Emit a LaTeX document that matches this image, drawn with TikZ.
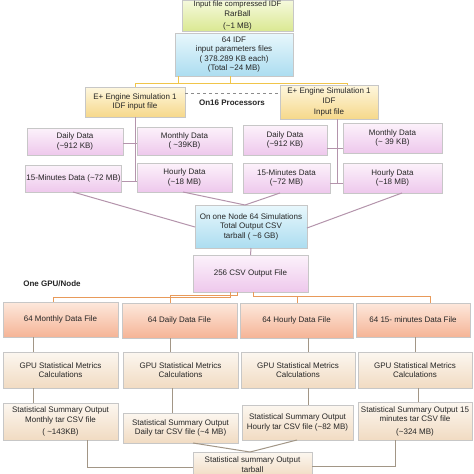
\documentclass[tikz,border=0pt]{standalone}
\usepackage{fontspec}
\setmainfont{Liberation Sans}
\usetikzlibrary{shadows}
\definecolor{grnT}{HTML}{F5F9DC}
\definecolor{grnB}{HTML}{DAE891}
\definecolor{bluT}{HTML}{E8F7FC}
\definecolor{bluB}{HTML}{ACDDF0}
\definecolor{yelT}{HTML}{FEF7DF}
\definecolor{yelB}{HTML}{F6D88A}
\definecolor{pnkT}{HTML}{FCF2FB}
\definecolor{pnkB}{HTML}{EEC8EC}
\definecolor{orgT}{HTML}{FDE8DC}
\definecolor{orgB}{HTML}{F5B496}
\definecolor{begT}{HTML}{FCF7F0}
\definecolor{begB}{HTML}{F1DBC2}
\definecolor{lnYel}{HTML}{F0C54A}
\definecolor{lnOrg}{HTML}{E89A5A}
\definecolor{lnMv}{HTML}{B494AC}
\definecolor{lnGry}{HTML}{A29686}
\newcommand\apx{\textasciitilde}
\newcommand\fs{\fontsize{8}{9.5}\selectfont}
\newcommand\fst{\fontsize{8}{8}\selectfont}
\newcommand\fsu{\fontsize{7.7}{7.5}\selectfont}
\newcommand\bx[7]{\node[#2, minimum width={(#5)-(#3)}, minimum height={(#6)-(#4)}] (#1) at ({((#3)+(#5))/2},{((#4)+(#6))/2}) {#7};}
\begin{document}
\begin{tikzpicture}[x=1pt,y=-1pt,
  box/.style={draw=black!22, line width=0.4pt, inner xsep=1pt, inner ysep=1pt, outer sep=0pt, align=center, font=\fs, text=black!85, drop shadow={opacity=0.18, shadow xshift=0.8pt, shadow yshift=-0.8pt}},
  grn/.style={box, top color=grnT, bottom color=grnB},
  blu/.style={box, top color=bluT, bottom color=bluB},
  yel/.style={box, top color=yelT, bottom color=yelB},
  pnk/.style={box, top color=pnkT, bottom color=pnkB},
  org/.style={box, top color=orgT, bottom color=orgB},
  beg/.style={box, top color=begT, bottom color=begB},
  lab/.style={font=\fs\bfseries, text=black!85, inner sep=0pt},
  ly/.style={draw=lnYel, line width=1pt},
  lo/.style={draw=lnOrg, line width=1pt},
  lm/.style={draw=lnMv, line width=1pt},
  lg/.style={draw=lnGry, line width=1pt},
]
\useasboundingbox (0,0) rectangle (474,474);
\fill[white] (0,0) rectangle (474,474);
\clip (0,0) rectangle (474,474);

% coordinates for connector routing
\coordinate (ya) at (178,83);
\coordinate (yb) at (230,83);
\coordinate (x347) at (347,0);
\coordinate (dy) at (0,93);
\coordinate (t1) at (0,181);
\coordinate (t2) at (337,0);
\coordinate (r1) at (0,143);
\coordinate (r2) at (0,181);
\coordinate (r3) at (0,148);
\coordinate (r4) at (0,183);
\coordinate (c73) at (73,0);
\coordinate (c183) at (183,0);
\coordinate (c280) at (280,0);
\coordinate (c402) at (402,0);
\coordinate (c245) at (245,0);
\coordinate (y227) at (0,227);
\coordinate (y228) at (0,228);
\coordinate (o1) at (230,297);
\coordinate (o2) at (237,295);
\coordinate (o3) at (253,296);
\coordinate (x53) at (53,0);
\coordinate (x170) at (170,0);
\coordinate (x297) at (297,0);
\coordinate (x430) at (430,0);
\coordinate (g33) at (33,0);
\coordinate (g170) at (170,0);
\coordinate (g172) at (172,0);
\coordinate (g308) at (308,0);
\coordinate (g415) at (415,0);
\coordinate (g418) at (418,0);
\coordinate (f87) at (87,0);
\coordinate (f193) at (193,0);
\coordinate (f250) at (250,0);
\coordinate (f297) at (297,0);
\coordinate (f395) at (395,0);
\coordinate (y470) at (0,467);
\coordinate (y468) at (0,466);

% top
\bx{top}{grn}{182}{1}{293}{31}{\fsu Input file compressed IDF\\ RarBall\\[3pt] (\apx1 MB)}
\bx{idf}{blu}{175}{33}{293}{76}{64 IDF\\ input parameters files\\ ( 378.289 KB each)\\ (Total \apx24 MB)}
\bx{E1}{yel}{85}{87}{185}{117}{E+ Engine Simulation 1\\ IDF input file}
\bx{E2}{yel}{280}{85}{378}{119}{E+ Engine Simulation 1\\ IDF\\[2pt] Input file}
\node[lab] (proc) at (232,103) {On16 Processors};

% pink left
\bx{LD}{pnk}{27}{128}{123}{155}{Daily Data\\ (\apx912 KB)}
\bx{LM}{pnk}{137}{127}{232}{155}{Monthly Data\\ ( \apx39KB)}
\bx{LF}{pnk}{27}{165}{120}{192}{15-Minutes Data (\apx72 MB)}
\bx{LH}{pnk}{137}{163}{232}{192}{Hourly Data\\ (\apx18 MB)}
% pink right
\bx{RD}{pnk}{243}{125}{327}{155}{Daily Data\\ (\apx912 KB)}
\bx{RM}{pnk}{343}{123}{442}{153}{Monthly Data\\ (\apx\ 39 KB)}
\bx{RF}{pnk}{243}{163}{330}{193}{15-Minutes Data\\ (\apx72 MB)}
\bx{RH}{pnk}{343}{163}{442}{193}{Hourly Data\\ (\apx18 MB)}

\bx{C}{blu}{195}{205}{307}{248}{On one Node 64 Simulations\\ Total Output CSV\\ tarball ( \apx6 GB)}
\bx{S}{pnk}{193}{255}{308}{292}{256 CSV Output File}
\node[lab] (gpu) at (52,284) {One GPU/Node};

% orange row
\bx{OM}{org}{3}{302}{118}{337}{64 Monthly Data File}
\bx{OD}{org}{122}{303}{237}{338}{64 Daily Data File}
\bx{OH}{org}{240}{303}{353}{338}{64 Hourly Data File}
\bx{O15}{org}{356}{303}{470}{337}{64 15- minutes Data File}

% GPU row
\bx{GM}{beg}{3}{352}{118}{388}{GPU Statistical Metrics\\ Calculations}
\bx{GD}{beg}{123}{352}{238}{388}{GPU Statistical Metrics\\ Calculations}
\bx{GH}{beg}{241}{352}{355}{388}{GPU Statistical Metrics\\ Calculations}
\bx{G15}{beg}{358}{352}{472}{388}{GPU Statistical Metrics\\ Calculations}

% summary row
\bx{SM}{beg}{3}{403}{118}{440}{Statistical Summary Output\\ Monthly tar CSV file\\[3pt] ( \apx143KB)}
\bx{SD}{beg}{123}{413}{238}{443}{Statistical Summary Output\\ Daily tar CSV file (\apx4 MB)}
\bx{SH}{beg}{242}{405}{353}{440}{Statistical Summary Output\\ Hourly tar CSV file (\apx82 MB)}
\bx{S15}{beg}{358}{402}{472}{440}{Statistical Summary Output 15\\ minutes tar CSV file\\[3pt] (\apx324 MB)}
\bx{F}{beg}{193}{452}{312}{477}{\fst Statistical summary Output\\ tarball}

% connectors
\draw[ly] (idf.south -| yb) -- (yb) -| (E1.north);
\draw[ly] (idf.south -| ya) -- (ya) -| (E2.north -| x347);
\draw[black!45, dashed, line width=0.6pt] (E1.east |- dy) -- (E2.west |- dy);

\draw[lm] (E1.south) -- (E1.south |- t1);
\draw[lm] (LD.east |- r1) -- (LM.west |- r1);
\draw[lm] (LF.east |- r2) -- (LH.west |- r2);
\draw[lm] (E2.south -| t2) -- (t2 |- r4);
\draw[lm] (RD.east |- r3) -- (RM.west |- r3);
\draw[lm] (RF.east |- r4) -- (RH.west |- r4);

\draw[lm] (LF.south -| c73) -- (C.west |- y227);
\draw[lm] (LH.south -| c183) -- (C.north -| c245);
\draw[lm] (RF.south -| c280) -- (C.north -| c245);
\draw[lm] (RH.south -| c402) -- (C.east |- y228);
\draw[lm] (C.south) -- (S.north);

\draw[lo] (S.south -| o1) -- (o1) -| (OM.north -| x53);
\draw[lo] (S.south -| o2) -- (o2) -| (OD.north -| x170);
\draw[lo] (S.south -| o3) -- (o3) -| (OH.north -| x297);
\draw[lo] (o3) -| (O15.north -| x430);

\draw[lg] (OM.south -| g33) -- (GM.north -| g33);
\draw[lg] (OD.south -| g170) -- (GD.north -| g170);
\draw[lg] (OH.south -| g308) -- (GH.north -| g308);
\draw[lg] (O15.south -| g415) -- (G15.north -| g415);
\draw[lg] (GM.south -| g33) -- (SM.north -| g33);
\draw[lg] (GD.south -| g172) -- (SD.north -| g172);
\draw[lg] (GH.south -| g308) -- (SH.north -| g308);
\draw[lg] (G15.south -| g418) -- (S15.north -| g418);

\draw[lg] (SM.south -| f87) |- (F.west |- y470);
\draw[lg] (SD.south -| f193) -- (F.north -| f250);
\draw[lg] (SH.south -| f297) -- (F.north -| f250);
\draw[lg] (S15.south -| f395) |- (F.east |- y468);
\end{tikzpicture}
\end{document}
